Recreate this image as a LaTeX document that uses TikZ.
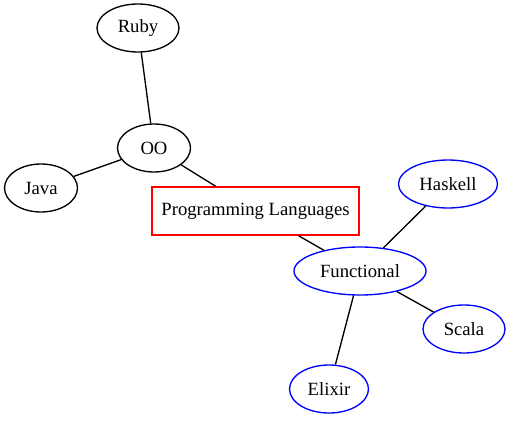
\documentclass[tikz,border=0pt]{standalone}
\usepackage{fontspec}
\setmainfont{Liberation Serif}
\usetikzlibrary{shapes.geometric}
\begin{document}
\begin{tikzpicture}[x=0.75pt,y=-0.75pt,
  every node/.style={font=\fontsize{14pt}{16pt}\selectfont, inner sep=0pt, line width=1pt},
  ell/.style={draw, ellipse, minimum height=36pt},
  blk/.style={ell, draw=black},
  fun/.style={ell, draw=blue},
  box/.style={draw=red, rectangle, minimum width=155.25pt, minimum height=36pt},
  edge/.style={line width=1pt, black}]
\useasboundingbox (0,0) rectangle (510,421);
\node[box] (pl) at (255.5,211) {Programming Languages};
\node[blk, minimum width=61.5pt] (ruby) at (138,28) {Ruby};
\node[blk, minimum width=54.75pt] (oo) at (154,148) {OO};
\node[blk, minimum width=54.75pt] (java) at (41,188) {Java};
\node[fun, minimum width=99pt] (func) at (360,271) {Functional};
\node[fun, minimum width=74.25pt] (hask) at (448,184) {Haskell};
\node[fun, minimum width=61.5pt] (scala) at (464,329) {Scala};
\node[fun, minimum width=59.25pt] (elix) at (329,389) {Elixir};
\draw[edge] (ruby) -- (oo);
\draw[edge] (oo) -- (java);
\draw[edge] (oo) -- (pl);
\draw[edge] (pl) -- (func);
\draw[edge] (func) -- (hask);
\draw[edge] (func) -- (scala);
\draw[edge] (func) -- (elix);
\end{tikzpicture}
\end{document}
